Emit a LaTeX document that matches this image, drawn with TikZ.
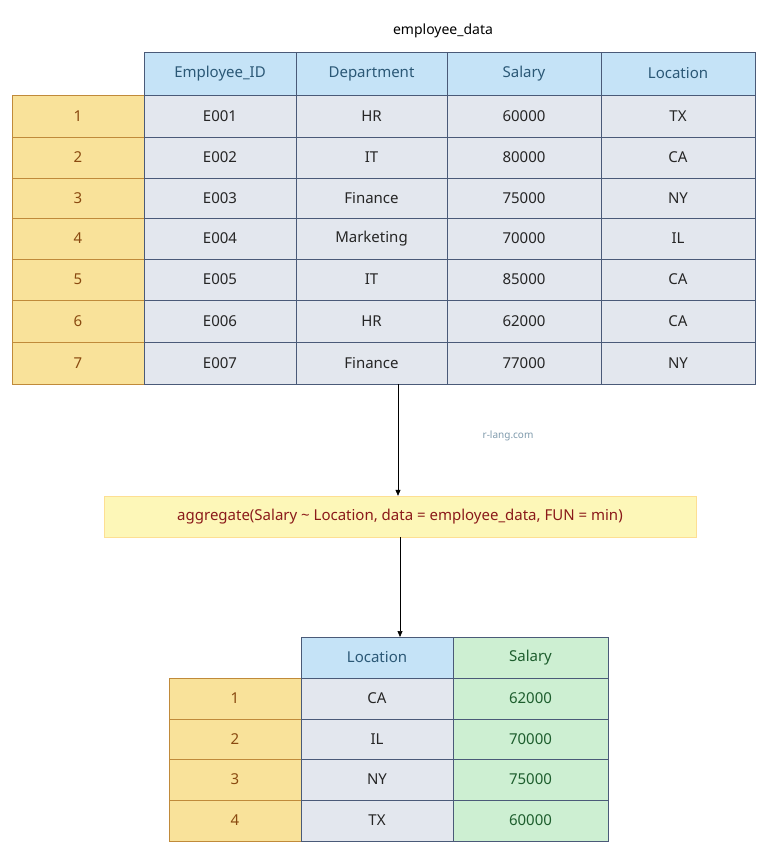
\documentclass[tikz,border=0pt]{standalone}
\usepackage{fontspec}
\setmainfont{Noto Sans}
\usetikzlibrary{arrows.meta}
\definecolor{hdr}{HTML}{C5E3F7}
\definecolor{hdrtxt}{HTML}{2B5876}
\definecolor{idx}{HTML}{F9E29A}
\definecolor{idxtxt}{HTML}{8A4A10}
\definecolor{cell}{HTML}{E3E7EE}
\definecolor{grn}{HTML}{CDEFD2}
\definecolor{grntxt}{HTML}{1E5E2E}
\definecolor{bdr}{HTML}{4A5A78}
\definecolor{idxbdr}{HTML}{C08A3A}
\definecolor{aggfill}{HTML}{FDF7B8}
\definecolor{aggtxt}{HTML}{8B1A1A}
\tikzset{
 cellbox/.style={draw=bdr,line width=0.8pt,fill=cell,text=black!85},
 hdrbox/.style={draw=bdr,line width=0.8pt,fill=hdr,text=hdrtxt},
 idxbox/.style={draw=idxbdr,line width=0.8pt,fill=idx,text=idxtxt},
 grnbox/.style={draw=bdr,line width=0.8pt,fill=grn,text=grntxt},
 arr/.style={-{Triangle[length=6pt,width=5pt]},line width=0.7pt}
}
\newcommand{\tcell}[6]{\draw[#1] (#2,#3) rectangle (#4,#5); \node[text=.] at ({(#2+#4)/2},{(#3+#5)/2}) {\fontsize{15}{18}\selectfont #6};}
\begin{document}
\begin{tikzpicture}[x=1pt,y=-1pt]
\useasboundingbox[fill=white] (0,0) rectangle (768,853);
\node (title) at (443,31) {\fontsize{14}{17}\selectfont employee\_data};
% header
\def\ys{52}\def\ye{95}
\foreach \xa/\xb/\t in {144/296/Employee\_ID,296/447/Department,447/601/Salary,601/755/Location}{
 \draw[hdrbox] (\xa,\ys) rectangle (\xb,\ye);
 \node[text=hdrtxt] at ({(\xa+\xb)/2},73.5) {\fontsize{15}{18}\selectfont \t};
}
\foreach \i/\ya/\yb/\a/\b/\c/\d in {1/95/137/E001/HR/60000/TX,2/137/178/E002/IT/80000/CA,3/178/218/E003/Finance/75000/NY,4/218/259/E004/Marketing/70000/IL,5/259/300/E005/IT/85000/CA,6/300/342/E006/HR/62000/CA,7/342/384/E007/Finance/77000/NY}{
 \draw[idxbox] (12,\ya) rectangle (144,\yb);
 \node[text=idxtxt] at (78,{(\ya+\yb)/2}) {\fontsize{15}{18}\selectfont \i};
 \draw[cellbox] (144,\ya) rectangle (296,\yb);
 \draw[cellbox] (296,\ya) rectangle (447,\yb);
 \draw[cellbox] (447,\ya) rectangle (601,\yb);
 \draw[cellbox] (601,\ya) rectangle (755,\yb);
 \node[text=black!85] at (220,{(\ya+\yb)/2}) {\fontsize{15}{18}\selectfont \a};
 \node[text=black!85] at (371.5,{(\ya+\yb)/2}) {\fontsize{15}{18}\selectfont \b};
 \node[text=black!85] at (524,{(\ya+\yb)/2}) {\fontsize{15}{18}\selectfont \c};
 \node[text=black!85] at (678,{(\ya+\yb)/2}) {\fontsize{15}{18}\selectfont \d};
}
\coordinate (t1) at (398,384);
\node[text=hdrtxt!60,font=\fontsize{10}{12}\selectfont] (site) at (508,436) {r-lang.com};
\node[fill=aggfill,draw=aggfill!80!orange,minimum width=592pt,minimum height=41pt,inner sep=0pt,text=aggtxt,font=\fontsize{15}{18}\selectfont] (agg) at (400,516.5) {aggregate(Salary \textasciitilde{} Location, data = employee\_data, FUN = min)};
\draw[arr] (t1) -- (agg.north -| t1);
\coordinate (t2) at (400,637);
\draw[arr] (agg.south) -- (t2);
% bottom table
\draw[hdrbox] (301,637) rectangle (453,678);
\node[text=hdrtxt] at (377,657.5) {\fontsize{15}{18}\selectfont Location};
\draw[grnbox] (453,637) rectangle (608,678);
\node[text=grntxt] at (530.5,657.5) {\fontsize{15}{18}\selectfont Salary};
\foreach \i/\ya/\yb/\a/\b in {1/678/719/CA/62000,2/719/759/IL/70000,3/759/800/NY/75000,4/800/841/TX/60000}{
 \draw[idxbox] (169,\ya) rectangle (301,\yb);
 \node[text=idxtxt] at (235,{(\ya+\yb)/2}) {\fontsize{15}{18}\selectfont \i};
 \draw[cellbox] (301,\ya) rectangle (453,\yb);
 \node[text=black!85] at (377,{(\ya+\yb)/2}) {\fontsize{15}{18}\selectfont \a};
 \draw[grnbox] (453,\ya) rectangle (608,\yb);
 \node[text=grntxt] at (530.5,{(\ya+\yb)/2}) {\fontsize{15}{18}\selectfont \b};
}
\end{tikzpicture}
\end{document}
